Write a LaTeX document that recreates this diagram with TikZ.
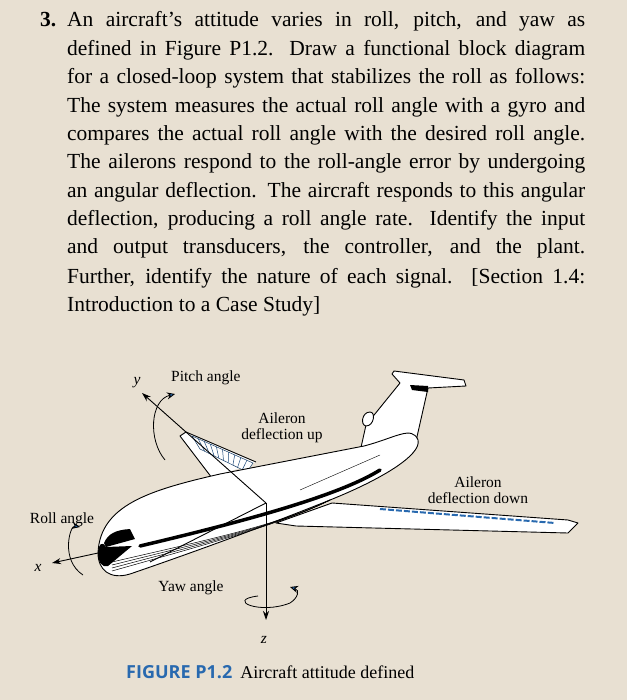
\documentclass[tikz,border=0pt]{standalone}
\usepackage{fontspec}
\setmainfont{Liberation Serif}
\newfontfamily\capfont{Open Sans}
\usetikzlibrary{arrows.meta}
\definecolor{paper}{RGB}{232,224,210}
\definecolor{fblue}{RGB}{40,105,175}
\tikzset{
  line/.style={draw=black,line width=0.9pt,line join=round},
  ax/.style={draw=black,line width=0.9pt,-{Stealth[length=9pt,width=6pt]}},
  rot/.style={draw=black,line width=0.8pt,-{Stealth[length=8pt,width=7pt,fill=fblue]}},
  lbl/.style={font=\fontsize{15.5}{16}\selectfont,align=center,inner sep=1pt},
  txt/.style={anchor=base west,inner sep=0pt,font=\fontsize{21.5}{22}\selectfont}
}
\begin{document}
\begin{tikzpicture}[x=1pt,y=-1pt]
\fill[paper] (0,0) rectangle (627,700);
\useasboundingbox (0,0) rectangle (627,700);
\node[txt] (n) at (40,27) {\textbf{3.}};
\node[txt] (l1) at (67,27) {\makebox[518pt][s]{An aircraft's attitude varies in roll, pitch, and yaw as}};
\node[txt] (l2) at (67,56) {\makebox[518pt][s]{defined in Figure P1.2. Draw a functional block diagram}};
\node[txt] (l3) at (67,84) {\makebox[518pt][s]{for a closed-loop system that stabilizes the roll as follows:}};
\node[txt] (l4) at (67,113) {\makebox[518pt][s]{The system measures the actual roll angle with a gyro and}};
\node[txt] (l5) at (67,141) {\makebox[518pt][s]{compares the actual roll angle with the desired roll angle.}};
\node[txt] (l6) at (67,169) {\makebox[518pt][s]{The ailerons respond to the roll-angle error by undergoing}};
\node[txt] (l7) at (67,198) {\makebox[518pt][s]{an angular deflection. The aircraft responds to this angular}};
\node[txt] (l8) at (67,226) {\makebox[518pt][s]{deflection, producing a roll angle rate. Identify the input}};
\node[txt] (l9) at (67,254) {\makebox[518pt][s]{and output transducers, the controller, and the plant.}};
\node[txt] (l10) at (67,283) {\makebox[518pt][s]{Further, identify the nature of each signal. [Section 1.4:}};
\node[txt] (l11) at (67,311) {Introduction to a Case Study]};
% far wing
\draw[line,fill=white] (212,478) -- (180,436) -- (186,432) -- (256,462);
\draw[fill=white,draw=fblue!60!black,line width=0.5pt] (192,436) -- (200,449) -- (247,472) -- (253,463) -- cycle;
\foreach \i in {1,...,9}{\draw[fblue!70!black,line width=0.5pt] (192+6.1*\i,436+2.7*\i) -- (200+4.7*\i,449+2.3*\i);}
% tail fin
\draw[line,fill=white] (360,452) -- (366,425) -- (400,383) -- (392,374) -- (394,371) -- (464,380) -- (466,386) -- (428,388) -- (414,450);
\fill[black] (410,385) -- (428,386) -- (428,392) -- (412,390) -- cycle;
% fuselage
\draw[line,fill=white] (98,553) .. controls (100,505) and (150,490) .. (220,474)
  -- (364,446) .. controls (395,438) and (412,425) .. (418,440)
  .. controls (422,455) and (380,480) .. (330,500)
  .. controls (270,524) and (200,550) .. (130,574)
  .. controls (110,580) and (98,570) .. (98,553) -- cycle;
\fill[black] (104,543) .. controls (108,534) and (115,530) .. (130,529) -- (135,539) -- (106,547) -- cycle;
\fill[black] (98,553) .. controls (98,545) and (102,540) .. (106,547) -- (132,546) -- (108,566) .. controls (102,568) and (98,562) .. (98,553) -- cycle;
\draw[black,line width=3.5pt,line cap=round] (140,546) .. controls (250,520) and (340,495) .. (380,470);
\foreach \d in {3,6,9,12}{\draw[black,line width=0.5pt] (112,559+\d) .. controls (200,540+\d/2) and (280,525) .. (330,500);}
\draw[line,fill=white] (370,412) .. controls (362,412) and (360,425) .. (366,426) .. controls (374,426) and (376,412) .. (370,412) -- cycle;
\draw[black,line width=0.4pt] (300,490) -- (380,455);
% near wing
\draw[line,fill=white] (276,523) -- (332,503) -- (360,505) -- (568,520) -- (578,523) -- (568,533) -- (296,526) -- cycle;
\draw[fblue,line width=2pt,dash pattern=on 6pt off 2pt] (380,509) -- (555,523);
% axes
\coordinate (o) at (266,503);
\coordinate (ya) at (142,393);
\coordinate (xa) at (52,563);
\coordinate (za) at (266,620);
\coordinate (nose) at (98,553);
\coordinate (xm) at (150,562);
\draw[ax] (o) -- (ya);
\draw[ax] (nose) -- (xa);
\draw[line] (o) -- (xm);
\draw[ax] (o) -- (za);
\draw[rot] (165,460) .. controls (148,440) and (150,400) .. (175,394);
\draw[rot] (83,575) .. controls (60,560) and (70,525) .. (80,527);
\draw[rot] (258,596) .. controls (225,600) and (260,615) .. (290,603) .. controls (298,598) and (300,590) .. (290,587);
\node[lbl,anchor=west] (pitch) at (170,378) {Pitch angle};
\node[lbl] (y) at (137,383) {\itshape y};
\node[lbl] (aup) at (282,428) {Aileron\\deflection up};
\node[lbl] (adn) at (478,490) {Aileron\\deflection down};
\node[lbl] (roll) at (62,520) {Roll angle};
\node[lbl] (x) at (38,568) {\itshape x};
\node[lbl] (yaw) at (191,588) {Yaw angle};
\node[lbl] (z) at (264,640) {\itshape z};
\node[anchor=base west,inner sep=0pt,font=\fontsize{18}{18}\selectfont] (cap) at (126,678) {{\capfont\bfseries\color{fblue}FIGURE P1.2}\hspace{8pt}Aircraft attitude defined};
\end{tikzpicture}
\end{document}
